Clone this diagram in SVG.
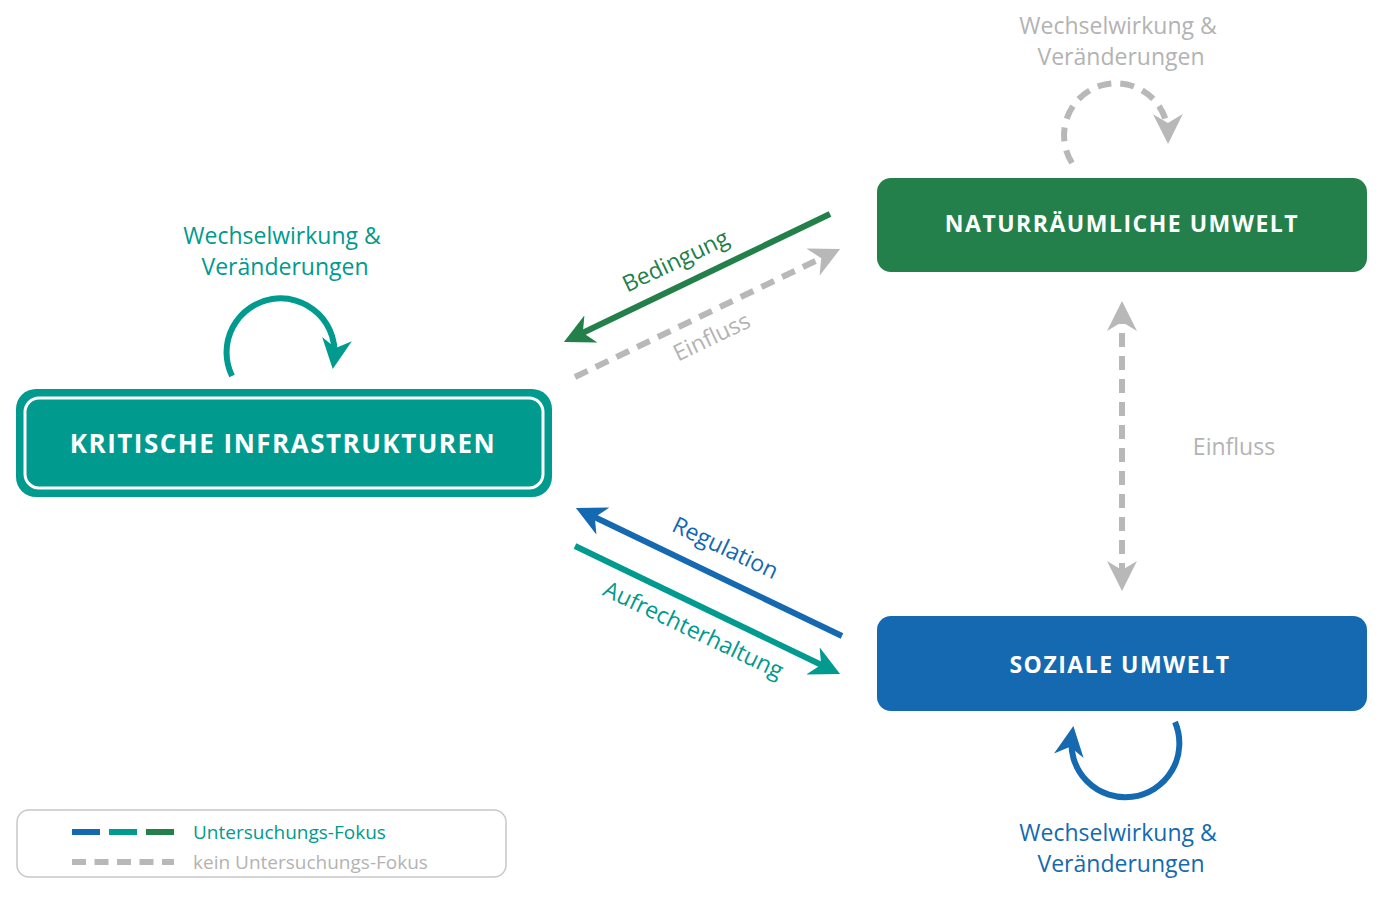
<svg xmlns="http://www.w3.org/2000/svg" width="1386" height="898" viewBox="0 0 1386 898">
<style>
text{font-family:"Open Sans","Liberation Sans",sans-serif;}
.lbl{font-size:23px;text-anchor:middle}
.node{font-size:23px;font-weight:bold;fill:#fff;text-anchor:middle;letter-spacing:1.5px}
.g{fill:#b3b3b3}.t{fill:#009a8e}.gr{fill:#23804a}.b{fill:#1569b0}
.ln{fill:none;stroke-width:6}
.dash{stroke:#b8b8b8;stroke-dasharray:14 9}
</style>
<defs>
<marker id="aT" viewBox="0 0 10 10" refX="7" refY="5" markerWidth="5" markerHeight="5" orient="auto" markerUnits="strokeWidth"><path d="M0,0L10,5L0,10L3,5z" fill="#009a8e"/></marker>
<marker id="aG" viewBox="0 0 10 10" refX="7" refY="5" markerWidth="5" markerHeight="5" orient="auto" markerUnits="strokeWidth"><path d="M0,0L10,5L0,10L3,5z" fill="#23804a"/></marker>
<marker id="aB" viewBox="0 0 10 10" refX="7" refY="5" markerWidth="5" markerHeight="5" orient="auto" markerUnits="strokeWidth"><path d="M0,0L10,5L0,10L3,5z" fill="#1569b0"/></marker>
<marker id="aY" viewBox="0 0 10 10" refX="7" refY="5" markerWidth="5" markerHeight="5" orient="auto" markerUnits="strokeWidth"><path d="M0,0L10,5L0,10L3,5z" fill="#b8b8b8"/></marker>
<marker id="aYs" viewBox="0 0 10 10" refX="7" refY="5" markerWidth="5" markerHeight="5" orient="auto-start-reverse" markerUnits="strokeWidth"><path d="M0,0L10,5L0,10L3,5z" fill="#b8b8b8"/></marker>
</defs>
<g id="kritis">
<rect x="16" y="389" width="536" height="108" rx="20" fill="#009a8e"/>
<rect x="25" y="398" width="518" height="90" rx="14" fill="none" stroke="#fff" stroke-width="3"/>
<text class="node" x="283" y="453" style="font-size:26px">KRITISCHE INFRASTRUKTUREN</text>
</g>
<g id="natur">
<rect x="877" y="178" width="490" height="94" rx="14" fill="#23804a"/>
<text class="node" x="1122" y="232">NATURRÄUMLICHE UMWELT</text>
</g>
<g id="sozial">
<rect x="877" y="616" width="490" height="95" rx="14" fill="#1569b0"/>
<text class="node" x="1120" y="673">SOZIALE UMWELT</text>
</g>
<g id="connectors">
<path class="ln" d="M232,376 A54,54 0 1 1 334,360" stroke="#009a8e" marker-end="url(#aT)"/>
<path class="ln dash" d="M1072,163 A52,52 0 1 1 1168,135" marker-end="url(#aY)"/>
<path class="ln" d="M1175,722 A54,54 0 1 1 1072,735" stroke="#1569b0" marker-end="url(#aB)"/>
<line class="ln" x1="830" y1="214" x2="572" y2="338" stroke="#23804a" marker-end="url(#aG)"/>
<line class="ln dash" x1="575" y1="377" x2="832" y2="253" marker-end="url(#aY)"/>
<line class="ln" x1="842" y1="636" x2="584" y2="512" stroke="#1569b0" marker-end="url(#aB)"/>
<line class="ln" x1="575" y1="546" x2="832" y2="670" stroke="#009a8e" marker-end="url(#aT)"/>
<line class="ln dash" x1="1122" y1="310" x2="1122" y2="582" marker-start="url(#aYs)" marker-end="url(#aYs)"/>
</g>
<g id="labels">
<text class="lbl t" x="282" y="244">Wechselwirkung &amp;</text>
<text class="lbl t" x="285" y="275">Veränderungen</text>
<text class="lbl g" x="1118" y="34">Wechselwirkung &amp;</text>
<text class="lbl g" x="1121" y="65">Veränderungen</text>
<text class="lbl b" x="1118" y="841">Wechselwirkung &amp;</text>
<text class="lbl b" x="1121" y="872">Veränderungen</text>
<text class="lbl g" x="1234" y="455">Einfluss</text>
<text class="lbl gr" transform="translate(679,268) rotate(-25.5)">Bedingung</text>
<text class="lbl g" transform="translate(715,344) rotate(-25.5)">Einfluss</text>
<text class="lbl b" transform="translate(722,555) rotate(25.5)">Regulation</text>
<text class="lbl t" transform="translate(690,637) rotate(25.5)">Aufrechterhaltung</text>
</g>
<g id="legend">
<rect x="17" y="810" width="489" height="67" rx="12" fill="none" stroke="#c8c8c8" stroke-width="1.5"/>
<line x1="72" y1="832" x2="100" y2="832" stroke="#1569b0" stroke-width="6"/>
<line x1="109" y1="832" x2="137" y2="832" stroke="#009a8e" stroke-width="6"/>
<line x1="146" y1="832" x2="174" y2="832" stroke="#23804a" stroke-width="6"/>
<line x1="72" y1="862" x2="174" y2="862" stroke="#b8b8b8" stroke-width="6" stroke-dasharray="14 8.5"/>
<text x="193" y="839" style="font-size:19px" class="t">Untersuchungs-Fokus</text>
<text x="193" y="869" style="font-size:19px" class="g">kein Untersuchungs-Fokus</text>
</g>
</svg>
